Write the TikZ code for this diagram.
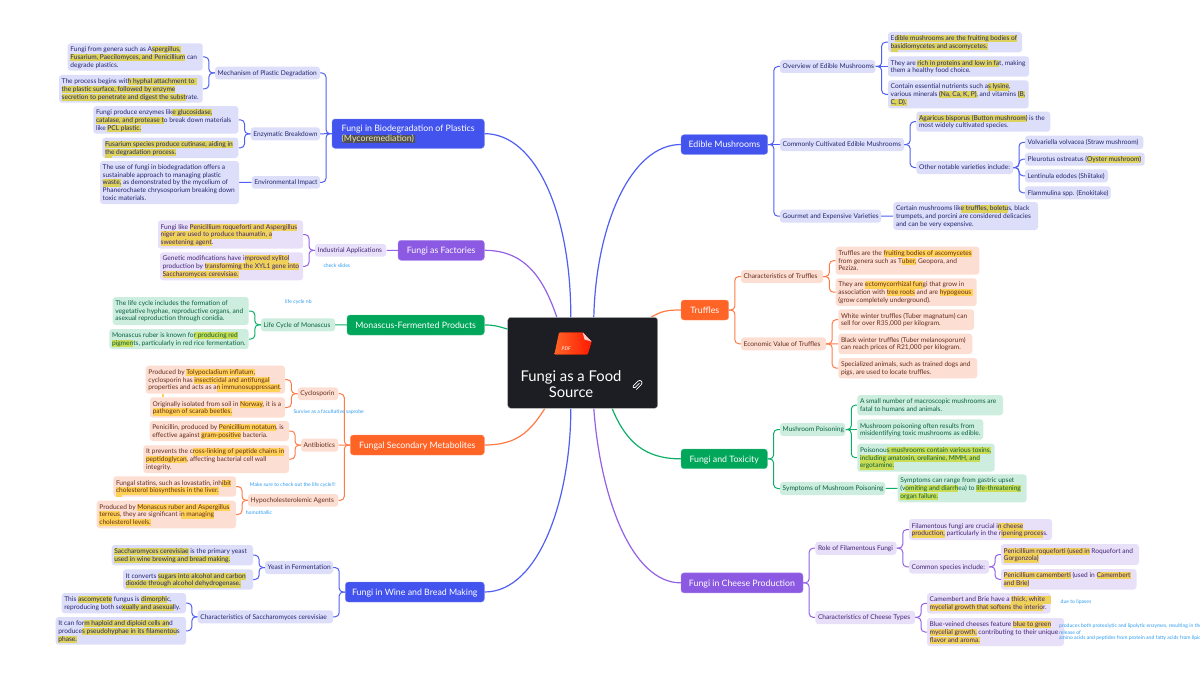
\documentclass[tikz,border=0pt]{standalone}
\usepackage{fontspec}
\setmainfont{Lato}
\usetikzlibrary{calc,backgrounds}
\definecolor{fb}{HTML}{DCDEFA}\definecolor{tb}{HTML}{25266E}\definecolor{lb}{HTML}{4F5FF2}\definecolor{mb}{HTML}{4353EE}\definecolor{hb}{HTML}{DDD25C}
\definecolor{fp}{HTML}{E8DFF9}\definecolor{tp}{HTML}{412474}\definecolor{lp}{HTML}{9560E6}\definecolor{mp}{HTML}{8C5AE2}\definecolor{hp}{HTML}{EFD25A}
\definecolor{fg}{HTML}{CDEEDF}\definecolor{tg}{HTML}{0A6040}\definecolor{lg}{HTML}{0CAF68}\definecolor{mg}{HTML}{00A65A}\definecolor{hg}{HTML}{CBDC55}
\definecolor{fo}{HTML}{FDDED2}\definecolor{to}{HTML}{632D1E}\definecolor{lo}{HTML}{FF7A45}\definecolor{mo}{HTML}{FF6427}\definecolor{ho}{HTML}{FFD257}
\definecolor{notec}{HTML}{2E9BEF}\definecolor{central}{HTML}{1C1E24}
\definecolor{darkmark}{HTML}{50505A}\definecolor{marktext}{HTML}{EDE9A0}
\newcommand\hlt[1]{{\setlength{\fboxsep}{0pt}\colorbox{hlc}{\rule[-1.7pt]{0pt}{7.2pt}#1}}}
\newcommand\bx[7]{\pgfmathsetmacro\bw{#5-#3}\pgfmathsetmacro\bh{#6-#4}\pgfmathsetmacro\bt{#5-#3-5.4}%
\node[#1,minimum width=\bw pt,minimum height=\bh pt] (#2) at ({(#3+#5)/2},{(#4+#6)/2}) {\makebox[\bt pt][l]{\raisebox{-.8pt}[\height][\depth]{\begin{tabular}{@{}l@{}}#7\end{tabular}}}};}
\newcommand\mn[7]{\pgfmathsetmacro\bw{#5-#3}\pgfmathsetmacro\bh{#6-#4}%
\node[#1,minimum width=\bw pt,minimum height=\bh pt] (#2) at ({(#3+#5)/2},{(#4+#6)/2}) {\raisebox{-1.2pt}[\height][\depth]{\begin{tabular}{@{}l@{}}#7\end{tabular}}};}
\newcommand\nt[4]{\node[note,yshift=-.7pt] (#1) at (#2,#3) {#4};}
\newcommand\lkL[3]{\draw[#1] (#2.west) -- ($(#2.west)!.5!(#2.west -| #3.east)$) |- (#3.east);}
\newcommand\lkR[3]{\draw[#1] (#2.east) -- ($(#2.east)!.5!(#2.east -| #3.west)$) |- (#3.west);}
\newcommand\stL[3]{\draw[#1] (#2.west) -- (#3.east);}
\newcommand\stR[3]{\draw[#1] (#2.east) -- (#3.west);}
\tikzset{
 leaf/.style={rounded corners=3pt,inner xsep=2.7pt,inner ysep=0pt,font=\fontsize{6.6}{7.6}\selectfont},
 lfb/.style={leaf,fill=fb,text=tb,execute at begin node={\colorlet{hlc}{hb}}},
 lfp/.style={leaf,fill=fp,text=tp,execute at begin node={\colorlet{hlc}{hp}}},
 lfg/.style={leaf,fill=fg,text=tg,execute at begin node={\colorlet{hlc}{hg}}},
 lfo/.style={leaf,fill=fo,text=to,execute at begin node={\colorlet{hlc}{ho}}},
 topic/.style={rounded corners=3pt,inner sep=0pt,text=white,font=\fontsize{8.8}{10}\selectfont},
 tb/.style={topic,fill=mb,draw=mb!70!white,line width=.4pt},
 tp/.style={topic,fill=mp,draw=mp!70!white,line width=.4pt},
 tg/.style={topic,fill=mg,draw=mg!70!white,line width=.4pt},
 to/.style={topic,fill=mo,draw=mo!70!white,line width=.4pt},
 note/.style={anchor=west,inner sep=0pt,text=notec,font=\fontsize{5.1}{5.7}\selectfont},
 cb/.style={lb,line width=1pt,rounded corners=4pt},
 cp/.style={lp,line width=1pt,rounded corners=4pt},
 cg/.style={lg,line width=1pt,rounded corners=4pt},
 co/.style={lo,line width=1pt,rounded corners=4pt},
 trunk/.style={line width=1.2pt},
}
\begin{document}
\begin{tikzpicture}[x=1pt,y=-1pt]
\useasboundingbox (0,0) rectangle (1200,677);
% centre
\node[rounded corners=3pt,fill=central,draw=gray!50,line width=.4pt,minimum width=150pt,minimum height=91pt,inner sep=0pt] (center) at (582.7,362.8) {};
\node[inner sep=0pt,text=white,align=center,font=\fontsize{14.8}{15.7}\selectfont] (ctitle) at (571,384) {Fungi as a Food\\Source};
\fill[rounded corners=1pt,left color=mo,right color=red!80!orange] (559,332.3) -- (582.7,332.3) -- (591.7,341.7) -- (587.7,354.7) -- (554.3,354.7) -- cycle;
\fill[red!20!white] (582.7,332.3) -- (591.7,341.7) -- (584.5,339.5) -- cycle;
\node[inner sep=0pt,text=white,font=\fontsize{5}{5}\selectfont\itshape] (pdfmark) at (566.2,348.4) {PDF};
\draw[white,line width=.75pt,line cap=round,shift={(636.7,384.7)},rotate=-45] (.9,-3) -- (.9,3.2) .. controls (.9,4.8) and (-1.6,4.8) .. (-1.6,3.2) -- (-1.6,-3.5) .. controls (-1.6,-6.5) and (3.1,-6.5) .. (3.1,-3.5) -- (3.1,3.5);
% left topics
\mn{tb}{bio}{332}{119}{484.3}{148.3}{Fungi in Biodegradation of Plastics\\{\setlength{\fboxsep}{0pt}\colorbox{darkmark}{\textcolor{marktext}{(Mycoremediation)\,}}}}
\mn{tp}{fact}{398}{240.3}{484.3}{260.3}{Fungi as Factories}
\mn{tg}{mona}{347}{315}{484.3}{335}{Monascus-Fermented Products}
\mn{to}{meta}{350.3}{435}{484.3}{455}{Fungal Secondary Metabolites}
\mn{tb}{wine}{345.3}{582}{484.3}{602}{Fungi in Wine and Bread Making}
% right topics
\mn{tb}{edib}{681}{134.7}{767.7}{154.3}{Edible Mushrooms}
\mn{to}{truf}{681}{300}{728.7}{320}{Truffles}
\mn{tg}{toxi}{681}{449}{767.3}{468.7}{Fungi and Toxicity}
\mn{tp}{chee}{681}{572.8}{803}{592.9}{Fungi in Cheese Production}
% biodegradation
\bx{lfb}{mech}{215}{66.7}{320}{79.3}{Mechanism of Plastic Degradation}
\bx{lfb}{enzy}{250.7}{127.3}{320}{140.3}{Enzymatic Breakdown}
\bx{lfb}{envi}{251.7}{176}{320}{188.7}{Environmental Impact}
\bx{lfb}{asper}{67.7}{43.3}{202.7}{70.7}{Fungi from genera such as A\hlt{spergillus,}\\\hlt{Fusarium, Paecilomyces, and Penicillium} can\\degrade plastics.}
\bx{lfb}{hyph}{59}{75}{202.7}{102.7}{The process begins wit\hlt{h hyphal attachment to\hspace{3pt}}\\\hlt{the plastic surface, followed by enzyme}\\\hlt{secretion to penetrate and digest the subst}rate.}
\bx{lfb}{gluc}{93.3}{106}{238.3}{133.7}{Fungi produce enzymes lik\hlt{e glucosidase,}\\\hlt{catalase, and protease t}o break down materials\\like \hlt{PCL plastic.}}
\bx{lfb}{cuti}{102.3}{137.7}{238.3}{158}{\hlt{Fusarium species produce cutinase, aiding in}\\\hlt{the degradation process.}}
\bx{lfb}{waste}{100}{161}{239}{204}{The use of fungi in biodegradation offers a\\sustainable approach to managing plastic\\\hlt{waste,} as demonstrated by the mycelium of\\Phanerochaete chrysosporium breaking down\\toxic materials.}
% factories
\bx{lfp}{indu}{315}{244}{386.3}{256.7}{Industrial Applications}
\bx{lfp}{thau}{158}{220.3}{303}{248.7}{Fungi like \hlt{Penicillium roqueforti and Aspergillus}\\\hlt{niger are used to produce thaumatin, a}\\\hlt{sweetening agent}.}
\bx{lfp}{xyli}{160}{252.3}{303}{280.3}{Genetic modifications have i\hlt{mproved xylitol}\\production by \hlt{transforming the XYL1 gene into}\\\hlt{Saccharomyces cerevisiae.}}
% monascus
\bx{lfg}{life}{261}{318.3}{335}{331.3}{Life Cycle of Monascus}
\bx{lfg}{hyphae}{112.7}{297}{248.7}{325}{The life cycle includes the formation of\\vegetative hyphae, reproductive organs, and\\asexual reproduction through conidia.}
\bx{lfg}{ruber}{109.3}{329}{248.7}{349}{Monascus ruber is known fo\hlt{r producing red}\\\hlt{pigmen}ts, particularly in red rice fermentation.}
% metabolites
\bx{lfo}{cycl}{297.7}{387.3}{338.3}{400}{Cyclosporin}
\bx{lfo}{anti}{301}{438.7}{338.3}{451.7}{Antibiotics}
\bx{lfo}{hypo}{248}{494}{338.3}{506.7}{Hypocholesterolemic Agents}
\bx{lfo}{toly}{145.7}{365.7}{285}{393.7}{Produced by \hlt{Tolypocladium inflatum,}\\cyclosporin has \hlt{insecticidal and antifungal}\\properties and acts as a\hlt{n immunosuppressant}.}
\bx{lfo}{norw}{150}{397.3}{285}{417.7}{Originally isolated from soil in \hlt{Norway}, it is a\\\hlt{pathogen of scarab beetles.}}
\bx{lfo}{peni}{149.7}{421}{289}{441}{Penicillin, produced by \hlt{Penicillium notatum}, is\\effective against \hlt{gram-positive} bacteria.}
\bx{lfo}{cross}{143.3}{445.3}{289}{473}{It prevents the c\hlt{ross-linking of peptide chains in}\\\hlt{peptidoglycan}, affecting bacterial cell wall\\integrity.}
\bx{lfo}{stat}{113.3}{476.3}{236}{496.7}{Fungal statins, such as lovastatin, inh\hlt{ibit}\\\hlt{cholesterol biosynthesis in the liver.}}
\bx{lfo}{terr}{96.7}{500.7}{236}{528.3}{Produced by \hlt{Monascus ruber and Aspergillus}\\\hlt{terreus}, they are significant i\hlt{n managing}\\\hlt{cholesterol levels.}}
% wine
\bx{lfb}{yeast}{265}{561}{333}{574}{Yeast in Fermentation}
\bx{lfb}{chars}{197.7}{610.3}{333}{623.3}{Characteristics of Saccharomyces cerevisiae}
\bx{lfb}{sacc}{111.7}{545}{253}{565.3}{\hlt{Saccharomyces cerevisiae} is the primary yeast\\\hlt{used in wine brewing and bread making.}}
\bx{lfb}{sugar}{123}{569.3}{253}{589.7}{It converts \hlt{sugars into alcohol and carbon}\\\hlt{dioxide through alcohol dehydrogenase.}}
\bx{lfb}{asco}{61.7}{593}{186}{613.3}{This \hlt{ascomycete} fungus is \hlt{dimorphi}c,\\reproducing both se\hlt{xually and asexual}ly.}
\bx{lfb}{hapl}{55.7}{617}{186}{644.7}{It can for\hlt{m haploid and diploid cells an}d\\produce\hlt{s pseudohyphae in its filamentou}s\\\hlt{phase.}}
% edible
\bx{lfb}{over}{780}{60}{875.3}{73}{Overview of Edible Mushrooms}
\bx{lfb}{comm}{780}{138}{904}{151}{Commonly Cultivated Edible Mushrooms}
\bx{lfb}{gour}{780}{209.7}{881}{222.7}{Gourmet and Expensive Varieties}
\bx{lfb}{frui}{888}{32}{1022}{52.3}{E\hlt{dible mushrooms are the fruiting bodies of}\\\hlt{basidiomycetes and ascomycetes.}}
\bx{lfb}{rich}{888}{56.3}{1029}{76.7}{They are \hlt{rich in proteins and low in fa}t, making\\them a healthy food choice.}
\bx{lfb}{nutr}{888}{80.3}{1028.7}{108.3}{Contain essential nutrients such a\hlt{s lysine},\\various minerals \hlt{(Na, Ca, K, P)}, and vitamins \hlt{(B,}\\\hlt{C, D).}}
\bx{lfb}{agar}{916.3}{111.7}{1050.3}{131.7}{\hlt{Agaricus bisporus (Button mushroom)} is the\\most widely cultivated species.}
\bx{lfb}{othr}{916.3}{161}{1013}{174}{Other notable varieties include:}
\bx{lfb}{volv}{1025}{135.7}{1143.3}{149}{Volvariella volvacea (Straw mushroom)}
\bx{lfb}{pleu}{1025}{152.7}{1144.7}{165.7}{Pleurotus ostreatus (\hlt{Oyster mushroom)}}
\bx{lfb}{lent}{1025}{169.3}{1108}{182.3}{Lentinula edodes (Shiitake)}
\bx{lfb}{flam}{1025}{186.3}{1110.7}{199.3}{Flammulina spp. (Enokitake)}
\bx{lfb}{cert}{893.3}{202}{1038}{230}{Certain mushrooms lik\hlt{e truffles, boletu}s, black\\trumpets, and porcini are considered delicacies\\and can be very expensive.}
% truffles
\bx{lfo}{chart}{741}{270}{823}{283}{Characteristics of Truffles}
\bx{lfo}{econ}{741}{337.3}{826}{350.3}{Economic Value of Truffles}
\bx{lfo}{fruit}{835.7}{246.7}{979.3}{274.7}{Truffles are the \hlt{fruiting bodies of ascomycetes}\\from genera such as T\hlt{uber,} Geopora, and\\Peziza.}
\bx{lfo}{ecto}{835.7}{278.3}{976.7}{306}{They are \hlt{ectomycorrhizal fun}gi that grow in\\association with \hlt{tree roots} and are \hlt{hypogeous\hspace{2pt}}\\(grow completely underground).}
\bx{lfo}{whit}{838.3}{309.3}{974}{330}{White winter truffles (Tuber magnatum) can\\sell for over R35,000 per kilogram.}
\bx{lfo}{blac}{838.3}{333.7}{972.3}{354}{Black winter truffles (Tuber melanosporum)\\can reach prices of R21,000 per kilogram.}
\bx{lfo}{spec}{838.3}{358}{977.3}{378.3}{Specialized animals, such as trained dogs and\\pigs, are used to locate truffles.}
% toxicity
\bx{lfg}{pois}{780}{423}{845.3}{436}{Mushroom Poisoning}
\bx{lfg}{symp}{780}{482}{885.3}{495}{Symptoms of Mushroom Poisoning}
\bx{lfg}{smal}{857.3}{395}{1003}{415.3}{A small number of macroscopic mushrooms are\\fatal to humans and animals.}
\bx{lfg}{misi}{857.3}{419.3}{983.3}{439.7}{Mushroom poisoning often results from\\misidentifying toxic mushrooms as edible.}
\bx{lfg}{toxn}{857.3}{443.7}{994.7}{471.7}{Poisonou\hlt{s mushrooms contain various toxins,}\\\hlt{including amatoxin, orellanine, MMH, and}\\\hlt{ergotamine.}}
\bx{lfg}{rang}{897.7}{474.3}{1026.7}{502.3}{Symptoms can range from gastric upset\\(v\hlt{omiting and diarrh}ea) to \hlt{life-threatening}\\\hlt{organ failure.}}
% cheese
\bx{lfp}{role}{815.3}{541.6}{896.5}{554.8}{Role of Filamentous Fungi}
\bx{lfp}{type}{815.3}{610.8}{915}{624}{Characteristics of Cheese Types}
\bx{lfp}{fila}{909}{519}{1052}{540}{Filamentous fungi are crucial i\hlt{n cheese}\\\hlt{production,} particularly in the r\hlt{ipening proces}s.}
\bx{lfp}{spcs}{909}{560}{989}{573.5}{Common species include:}
\bx{lfp}{roqu}{1001}{544}{1139}{565}{\hlt{Penicillium roqueforti (used in} Roquefort and\\\hlt{Gorgonzola)}}
\bx{lfp}{came}{1001}{569}{1136.5}{589.5}{\hlt{Penicillium camemberti} (used in \hlt{Camembert}\\\hlt{and Brie)}}
\bx{lfp}{brie}{927}{593}{1050.6}{613.6}{Camembert and Brie have a \hlt{thick, white\hspace{6pt}}\\\hlt{mycelial growth that softens the interio}r.}
\bx{lfp}{blue}{927}{618}{1064}{646}{Blue-veined cheeses feature \hlt{blue to green}\\\hlt{mycelial growth,} contributing to their unique\\\hlt{flavor and aroma.}}
% stray marks
\fill[ho] (162,393.7) rectangle (164,397.3);
\fill[hb] (105,156) rectangle (112,158);
\fill[hb] (890.7,50.3) rectangle (898,52);
\fill[ho] (116,495) rectangle (122,496.7);
% notes
\nt{n1}{323.3}{265}{check slides}
\nt{n2}{285}{301}{life cycle nb}
\nt{n3}{293.3}{411.7}{Survive as a facultative saprobe}
\nt{n4}{249.7}{484.3}{Make sure to check out the life cycle!!!}
\nt{n5}{245.7}{512.3}{homothallic}
\nt{n6}{1060.5}{601}{due to lipases}
\nt{n7}{1059}{625.8}{produces both proteolytic and lipolytic enzymes, resulting in the}
\nt{n8}{1059}{631.6}{release of}
\nt{n9}{1059}{637.3}{amino acids and peptides from protein and fatty acids from lipid}
% connectors
\begin{scope}[on background layer]
\coordinate (ca) at ($(center.north west)+(63.3,0)$);
\coordinate (cb) at ($(center.north west)+(49.3,0)$);
\coordinate (cc) at ($(center.north west)+(0,12)$);
\coordinate (cd) at ($(center.south west)+(37.3,0)$);
\coordinate (ce) at ($(center.south west)+(63.3,0)$);
\coordinate (cf) at ($(center.north west)+(86.3,0)$);
\coordinate (cg) at ($(center.north east)+(-6.7,0)$);
\coordinate (ch) at ($(center.south west)+(104.6,0)$);
\coordinate (ci) at ($(center.south west)+(86.3,0)$);
\draw[lb,trunk] (bio.east) .. controls +(52,0) and (571,215) .. (ca);
\draw[lp,trunk] (fact.east) .. controls +(42,0) and (544,280) .. (cb);
\draw[lg,trunk] (mona.east) .. controls +(10,0) and (497,326) .. (cc);
\draw[lo,trunk] (meta.east) .. controls +(32,0) and (530,432) .. (cd);
\draw[lb,trunk] (wine.east) .. controls +(56,0) and (571,495) .. (ce);
\draw[lb,trunk] (edib.west) .. controls +(-50,0) and (596,225) .. (cf);
\draw[lo,trunk] (truf.west) .. controls +(-14,0) and (662,311) .. (cg);
\draw[lg,trunk] (toxi.west) .. controls +(-36,0) and (626,442) .. (ch);
\draw[lp,trunk] (chee.west) .. controls +(-50,0) and (600,495) .. (ci);
\lkL{cb}{bio}{mech}\stL{cb}{bio}{enzy}\lkL{cb}{bio}{envi}
\lkL{cb}{mech}{asper}\lkL{cb}{mech}{hyph}\lkL{cb}{enzy}{gluc}\lkL{cb}{enzy}{cuti}\stL{cb}{envi}{waste}
\stL{cp}{fact}{indu}\lkL{cp}{indu}{thau}\lkL{cp}{indu}{xyli}
\stL{cg}{mona}{life}\lkL{cg}{life}{hyphae}\lkL{cg}{life}{ruber}
\lkL{co}{meta}{cycl}\stL{co}{meta}{anti}\lkL{co}{meta}{hypo}
\lkL{co}{cycl}{toly}\lkL{co}{cycl}{norw}\lkL{co}{anti}{peni}\lkL{co}{anti}{cross}\lkL{co}{hypo}{stat}\lkL{co}{hypo}{terr}
\lkL{cb}{wine}{yeast}\lkL{cb}{wine}{chars}\lkL{cb}{yeast}{sacc}\lkL{cb}{yeast}{sugar}\lkL{cb}{chars}{asco}\lkL{cb}{chars}{hapl}
\lkR{cb}{edib}{over}\stR{cb}{edib}{comm}\lkR{cb}{edib}{gour}
\lkR{cb}{over}{frui}\stR{cb}{over}{rich}\lkR{cb}{over}{nutr}
\lkR{cb}{comm}{agar}\lkR{cb}{comm}{othr}\stR{cb}{gour}{cert}
\lkR{cb}{othr}{volv}\lkR{cb}{othr}{pleu}\lkR{cb}{othr}{lent}\lkR{cb}{othr}{flam}
\lkR{co}{truf}{chart}\lkR{co}{truf}{econ}\lkR{co}{chart}{fruit}\lkR{co}{chart}{ecto}
\lkR{co}{econ}{whit}\stR{co}{econ}{blac}\lkR{co}{econ}{spec}
\lkR{cg}{toxi}{pois}\lkR{cg}{toxi}{symp}\lkR{cg}{pois}{smal}\stR{cg}{pois}{misi}\lkR{cg}{pois}{toxn}\stR{cg}{symp}{rang}
\lkR{cp}{chee}{role}\lkR{cp}{chee}{type}\lkR{cp}{role}{fila}\lkR{cp}{role}{spcs}\lkR{cp}{spcs}{roqu}\lkR{cp}{spcs}{came}\lkR{cp}{type}{brie}\lkR{cp}{type}{blue}
\end{scope}
\end{tikzpicture}
\end{document}
